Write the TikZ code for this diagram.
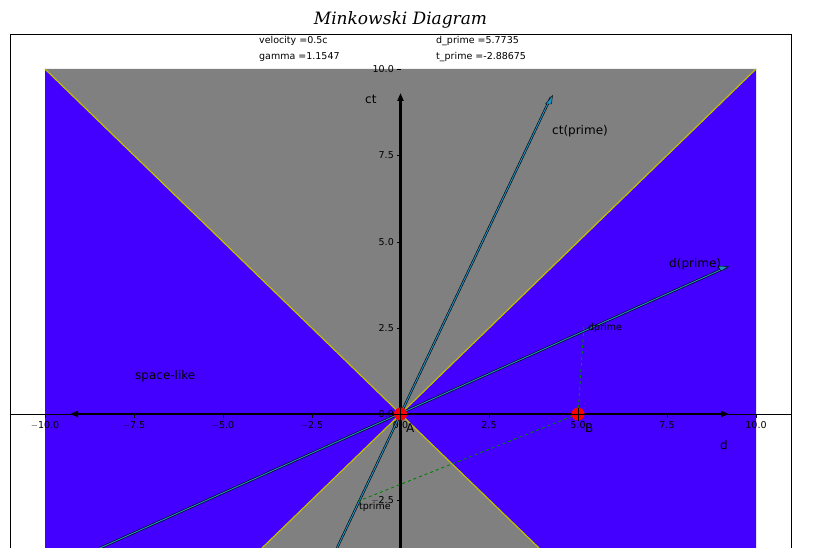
\documentclass[tikz,border=0pt]{standalone}
\usepackage{fontspec}
\setmainfont{DejaVu Sans}
\newfontfamily\titlefont{DejaVu Serif}
\usetikzlibrary{arrows.meta}
\definecolor{bl}{HTML}{4400FF}
\definecolor{gr}{HTML}{808080}
\definecolor{yl}{HTML}{BFBF00}
\definecolor{cy}{HTML}{1F8FC0}
\tikzset{lbl/.style={font=\fontsize{9.5}{11}\selectfont,inner sep=0pt},
 big/.style={font=\fontsize{12}{14}\selectfont,inner sep=0pt},
 primeax/.style={draw=black,double=cy,double distance=1pt,line width=0.6pt},
 ax/.style={line width=2.2pt,-{Triangle[length=8pt,width=6pt]}},
 dot/.style={circle,fill=red,minimum size=13pt,inner sep=0pt}}
\begin{document}
\begin{tikzpicture}[x=1pt,y=-1pt]
\useasboundingbox (0,0) rectangle (813,548);
\fill[white] (0,0) rectangle (813,548);
% regions
\fill[gr] (45,69) -- (756,69) -- (400.5,414) -- cycle;
\fill[gr] (400.5,414) -- (262,548) -- (539,548) -- cycle;
\fill[bl] (45,69) -- (400.5,414) -- (262,548) -- (45,548) -- cycle;
\fill[bl] (756,69) -- (400.5,414) -- (539,548) -- (756,548) -- cycle;
\draw[yl,line width=1.2pt] (45,69) -- (400.5,414) -- (756,69);
\draw[yl,line width=1.2pt] (262,548) -- (400.5,414) -- (539,548);
% frame
\draw[black,line width=0.7pt] (10,548) -- (10,34) -- (791,34) -- (791,548);
% tick labels
\foreach \px/\t in {45/$-$10.0,134/$-$7.5,223/$-$5.0,312/$-$2.5,400.5/0.0,489/2.5,578/5.0,667/7.5,756/10.0}{
  \draw (\px,414) -- (\px,418);
  \node[lbl,anchor=north] at (\px,421) {\t};}
\foreach \py/\t in {69/10.0,155.5/7.5,242/5.0,328.5/2.5,414/0.0,500.5/$-$2.5}{
  \draw (400.5,\py) -- (396.5,\py);
  \node[lbl,anchor=east] at (394,\py) {\t};}
\draw[line width=0.7pt] (10,414) -- (791,414);
% axes
\coordinate (O) at (400.5,414);
\coordinate (xr) at (729,414);
\coordinate (xl) at (70,414);
\coordinate (yt) at (400.5,93);
\coordinate (yb) at (400.5,548);
\draw[ax] (O) -- (xr);
\draw[ax] (O) -- (xl);
\draw[ax] (O) -- (yt);
\draw[line width=2.2pt] (O) -- (yb);
% prime axes
\coordinate (ctp) at (551,97);
\coordinate (ctm) at (337,548);
\coordinate (dp) at (727,267);
\coordinate (dm) at (100,548);
\draw[primeax] (ctm) -- (ctp);
\draw[primeax] (dm) -- (dp);
\fill[cy,draw=black,line width=0.4pt] (552.5,95.5) -- (545.5,104) -- (551.5,104) -- cycle;
\fill[cy,draw=black,line width=0.4pt] (728.5,266.5) -- (718,266) -- (721,271) -- cycle;
% green dashed
\coordinate (B) at (578,414);
\coordinate (dpr) at (584,325);
\coordinate (tpr) at (356,502);
\draw[green!50!black,dashed,line width=0.9pt] (B) -- (dpr);
\draw[green!50!black,dashed,line width=0.9pt] (B) -- (tpr);
% dots
\node[dot] (A) at (O) {};
\node[dot] (Bd) at (B) {};
\draw (394,414) -- (407,414) (400.5,407.5) -- (400.5,420.5);
\draw (571.5,414) -- (584.5,414) (578,407.5) -- (578,420.5);
% labels
\node[big,anchor=west] at (406,428) {A};
\node[big,anchor=west] at (585,428) {B};
\node[lbl,anchor=west] at (588,328) {dprime};
\node[lbl,anchor=west] at (359,507) {tprime};
\node[big,anchor=west] at (365,99) {ct};
\node[big,anchor=west] at (720,445) {d};
\node[big,anchor=west] at (552,131) {ct(prime)};
\node[big,anchor=west] at (669,264) {d(prime)};
\node[big,anchor=west] at (135,376) {space-like};
\node[lbl,anchor=west] at (259,41) {velocity =0.5c};
\node[lbl,anchor=west] at (259,57) {gamma =1.1547};
\node[lbl,anchor=west] at (436,41) {d\_prime =5.7735};
\node[lbl,anchor=west] at (436,57) {t\_prime =-2.88675};
\node[font=\titlefont\itshape\fontsize{17}{19}\selectfont,inner sep=0pt] at (400.5,20) {Minkowski Diagram};
\end{tikzpicture}
\end{document}
